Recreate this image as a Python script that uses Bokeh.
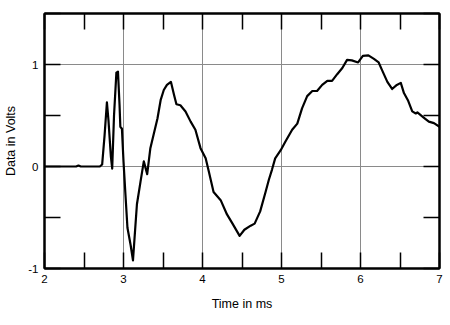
from bokeh.plotting import figure
from bokeh.models import LinearAxis, FixedTicker, Range1d
from bokeh.embed import file_html
from bokeh.resources import INLINE

time_ms = [2.0, 2.4, 2.43, 2.46, 2.7, 2.73, 2.76, 2.79, 2.81, 2.84, 2.857, 2.88, 2.91, 2.93,
           2.95, 2.96, 2.98, 3.0, 3.025, 3.05, 3.09, 3.12, 3.14, 3.17, 3.215, 3.257, 3.30,
           3.34, 3.38, 3.43, 3.47, 3.51, 3.55, 3.60, 3.64, 3.67, 3.72, 3.785, 3.85, 3.91,
           3.975, 4.04, 4.08, 4.14, 4.23, 4.31, 4.38, 4.47, 4.53, 4.61, 4.66, 4.73, 4.80,
           4.84, 4.88, 4.92, 4.99, 5.05, 5.135, 5.20, 5.26, 5.325, 5.39, 5.45, 5.515, 5.58,
           5.64, 5.705, 5.77, 5.83, 5.89, 5.97, 6.03, 6.10, 6.17, 6.23, 6.27, 6.34, 6.40,
           6.46, 6.51, 6.55, 6.60, 6.655, 6.70, 6.72, 6.80, 6.865, 6.93, 7.0]
volts = [0.0, 0.0, 0.01, 0.0, 0.0, 0.02, 0.3, 0.63, 0.45, 0.1, -0.02, 0.5, 0.92, 0.93,
         0.6, 0.39, 0.37, 0.05, -0.28, -0.60, -0.77, -0.92, -0.70, -0.37, -0.15, 0.05, -0.075,
         0.18, 0.31, 0.47, 0.65, 0.75, 0.80, 0.83, 0.70, 0.61, 0.60, 0.54, 0.44, 0.36,
         0.18, 0.08, -0.05, -0.25, -0.33, -0.47, -0.56, -0.68, -0.62, -0.58, -0.56, -0.44, -0.245,
         -0.13, -0.03, 0.08, 0.16, 0.245, 0.36, 0.42, 0.57, 0.69, 0.74, 0.74, 0.80, 0.84,
         0.84, 0.905, 0.965, 1.045, 1.04, 1.02, 1.085, 1.09, 1.055, 1.02, 0.95, 0.83, 0.76,
         0.80, 0.82, 0.72, 0.65, 0.54, 0.52, 0.53, 0.48, 0.44, 0.425, 0.39]

x_labels = [2, 3, 4, 5, 6, 7]
x_minor = [2.5, 3.5, 4.5, 5.5, 6.5]
y_labels = [-1, 0, 1]
y_minor = [-0.5, 0.5, 1.5]
x_grid = [3, 4, 5, 6]
y_grid = [0, 1]

FONT = "Liberation Sans"

p = figure(width=450, height=325, output_backend="svg", toolbar_location=None,
           x_range=Range1d(2, 7), y_range=Range1d(-1, 1.5),
           x_axis_label="Time in ms", y_axis_label="Data in Volts",
           min_border_left=44, min_border_right=11, min_border_top=13, min_border_bottom=57)
p.background_fill_color = "white"
p.border_fill_color = "white"
p.outline_line_color = "black"
p.outline_line_width = 2

def style_axis(ax, ticks, minor):
    ax.ticker = FixedTicker(ticks=ticks, minor_ticks=minor)
    ax.major_tick_in = 16
    ax.major_tick_out = 0
    ax.minor_tick_in = 16
    ax.minor_tick_out = 0
    ax.major_tick_line_color = "black"
    ax.minor_tick_line_color = "black"
    ax.major_tick_line_width = 1.5
    ax.minor_tick_line_width = 1.5
    ax.axis_line_color = "black"
    ax.axis_line_width = 2
    ax.major_label_text_font = FONT
    ax.major_label_text_font_size = "11.5px"
    ax.major_label_text_color = "black"
    ax.axis_label_text_font = FONT
    ax.axis_label_text_font_size = "12.5px"
    ax.axis_label_text_font_style = "normal"
    ax.axis_label_text_color = "black"

xa = p.xaxis[0]
ya = p.yaxis[0]
style_axis(xa, x_labels, x_minor)
style_axis(ya, y_labels, y_minor)
xa.major_label_standoff = 6
xa.axis_label_standoff = 11
ya.major_label_standoff = 6
ya.axis_label_standoff = 7
ya.major_label_overrides = {v: str(v) for v in y_labels}

# top and right axes: tick marks only (all as minor ticks, so no labels are drawn)
top = LinearAxis()
style_axis(top, [], sorted(x_labels + x_minor))
p.add_layout(top, "above")
right = LinearAxis()
style_axis(right, [], sorted(y_labels + y_minor))
p.add_layout(right, "right")

p.xgrid[0].ticker = FixedTicker(ticks=x_grid)
p.ygrid[0].ticker = FixedTicker(ticks=y_grid)
for g in (p.xgrid[0], p.ygrid[0]):
    g.grid_line_color = "#8a8a8a"
    g.grid_line_width = 1

p.line(time_ms, volts, line_color="black", line_width=2.2, line_join="round")

open("out.html", "w").write(file_html(p, INLINE))
